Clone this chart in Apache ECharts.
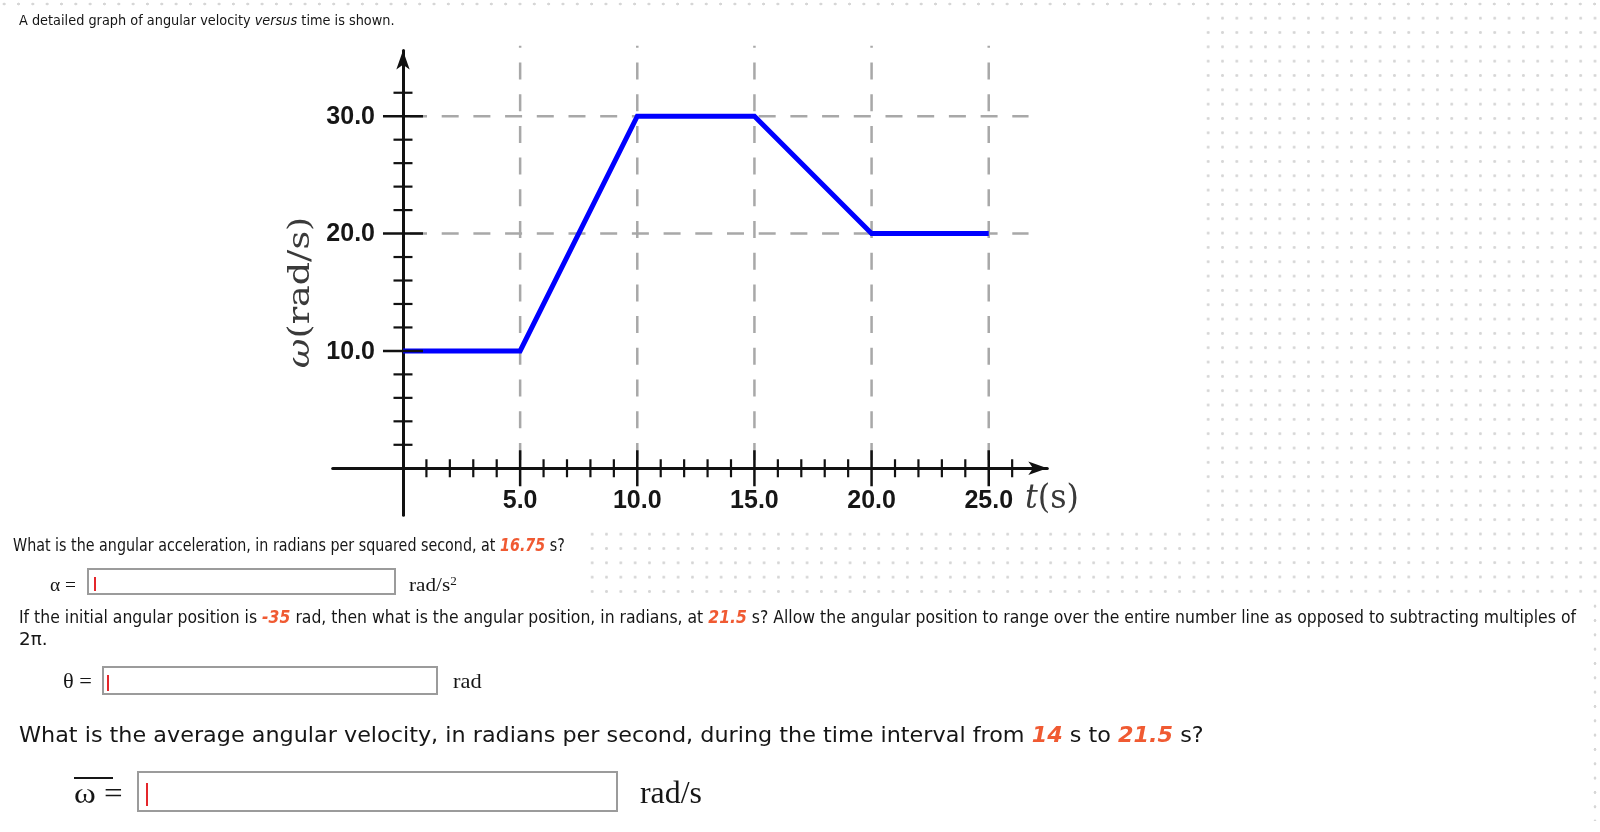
<!DOCTYPE html>
<html><head><meta charset="utf-8">
<script src="https://cdn.jsdelivr.net/npm/echarts@6/dist/echarts.min.js"></script>
<style>
html,body{margin:0;padding:0;background:#fff;width:1600px;height:832px;overflow:hidden;}
#chart{position:absolute;left:0;top:0;width:1600px;height:832px;}
.dots{position:absolute;background-image:radial-gradient(circle at center,#d6d6d6 0,#d6d6d6 1.1px,rgba(255,255,255,0) 1.8px);background-size:14.33px 14.33px;}
.t{position:absolute;white-space:nowrap;transform-origin:0 0;color:#161616;}
.sans{font-family:'DejaVu Sans',Verdana,sans-serif;}
.serif{font-family:'Liberation Serif','Times New Roman',serif;}
.o{color:#f05a32;font-weight:bold;font-style:italic;}
.box{position:absolute;box-sizing:border-box;border:2px solid #9b9b9b;background:#fff;}
.cur{position:absolute;width:2px;background:#e4262b;}
sup{font-size:0.62em;line-height:0;position:relative;top:-0.5em;vertical-align:baseline;}
</style></head>
<body>
<div class="dots" style="left:-2.9px;top:-3.3px;width:1603px;height:14.33px"></div>
<div class="dots" style="left:1201px;top:11px;width:399px;height:587.5px"></div>
<div class="dots" style="left:585px;top:526.6px;width:616px;height:71.9px"></div>
<div class="dots" style="left:1588px;top:598.5px;width:14.33px;height:222px"></div>
<div id="chart"></div>

<div class="t sans" data-x="19.4" data-b="25" data-fs="14" data-k="0.846" data-w="375.6">A detailed graph of angular velocity <i>versus</i> time is shown.</div>

<div class="t sans" data-x="12.5" data-b="551.7" data-fs="17" data-k="0.846" data-w="551.8">What is the angular acceleration, in radians per squared second, at <span class="o">16.75</span> s?</div>
<div class="t serif" data-x="50" data-b="590.5" data-fs="19" data-k="0.8375" data-w="26">α =</div>
<div class="box" style="left:87.3px;top:568.3px;width:308.7px;height:26.7px"></div>
<div class="cur" style="left:93.5px;top:577px;height:13.7px"></div>
<div class="t serif" data-x="409" data-b="590.7" data-fs="19" data-k="0.8375" data-w="47.7">rad/s<sup>2</sup></div>

<div class="t sans" data-x="19.4" data-b="623.5" data-fs="17" data-k="0.846" data-w="1557">If the initial angular position is <span class="o">-35</span> rad, then what is the angular position, in radians, at <span class="o">21.5</span> s? Allow the angular position to range over the entire number line as opposed to subtracting multiples of</div>
<div class="t sans" data-x="19.4" data-b="645.5" data-fs="17" data-k="0.846" data-w="28.6">2π.</div>
<div class="t serif" data-x="63" data-b="688.3" data-fs="22" data-k="0.8375" data-w="29">θ =</div>
<div class="box" style="left:101.7px;top:666px;width:336.6px;height:29px"></div>
<div class="cur" style="left:107px;top:675px;height:16px"></div>
<div class="t serif" data-x="453" data-b="688.3" data-fs="22" data-k="0.8375" data-w="28.6">rad</div>

<div class="t sans" data-x="19.4" data-b="741.7" data-fs="21.5" data-k="0.846" data-w="1184.6">What is the average angular velocity, in radians per second, during the time interval from <span class="o">14</span> s to <span class="o">21.5</span> s?</div>
<div class="t serif" data-x="74" data-b="803.3" data-fs="30" data-k="0.8375" data-w="48.7">ω =</div>
<div style="position:absolute;left:74px;top:777px;width:39px;height:1.6px;background:#161616"></div>
<div class="box" style="left:136.7px;top:770.7px;width:481.7px;height:41.6px"></div>
<div class="cur" style="left:145.7px;top:783px;height:23px"></div>
<div class="t serif" data-x="640" data-b="803.3" data-fs="31" data-k="0.8375" data-w="62">rad/s</div>

<script>
// ---- data ----
const timeS = [0, 5, 10, 15, 20, 25];
const omega = [10, 10, 30, 30, 20, 20];
const xMajorTicks = [5, 10, 15, 20, 25];
const xMinorTicks = [1, 2, 3, 4, 6, 7, 8, 9, 11, 12, 13, 14, 16, 17, 18, 19, 21, 22, 23, 24, 26];
const yMajorTicks = [10, 20, 30];
const yMinorTicks = [2, 4, 6, 8, 12, 14, 16, 18, 22, 24, 26, 28, 32];
const xTickLabels = ['5.0', '10.0', '15.0', '20.0', '25.0'];
const yTickLabels = ['10.0', '20.0', '30.0'];
const vGridAt = [5, 10, 15, 20, 25];
const hGridAt = [20, 30];
const vGridTop = 36;
const hGridEnd = 26.7;
const xRange = [-3, 27.5];
const yRange = [-4, 35.6];

function place() {
  document.querySelectorAll('.t').forEach(el => {
    const fs = +el.dataset.fs, k = +el.dataset.k, b = +el.dataset.b, w = +el.dataset.w;
    el.style.fontSize = fs + 'px';
    el.style.lineHeight = fs + 'px';
    el.style.left = el.dataset.x + 'px';
    el.style.top = (b - k * fs) + 'px';
    el.style.transform = 'none';
    const nat = el.getBoundingClientRect().width;
    el.style.transform = 'scaleX(' + (w / nat) + ')';
  });
}

function measure(font, parts) {
  const c = document.createElement('canvas').getContext('2d');
  let w = 0;
  parts.forEach(p => { c.font = p[0] + ' ' + font; w += c.measureText(p[1]).width; });
  return w;
}

function tickSeries(vals, axis, half, lw) {
  return {
    type: 'custom', coordinateSystem: 'cartesian2d', silent: true, clip: false, z: 6,
    data: vals.map(v => axis === 'x' ? [v, 0] : [0, v]),
    renderItem: (params, api) => {
      const p = api.coord([api.value(0), api.value(1)]);
      const shape = axis === 'x'
        ? { x1: p[0], y1: p[1] - half, x2: p[0], y2: p[1] + half }
        : { x1: p[0] - half, y1: p[1], x2: p[0] + half, y2: p[1] };
      return { type: 'line', shape: shape, style: { stroke: '#111', lineWidth: lw } };
    }
  };
}

const labelFont = 'bold 25px "Liberation Sans", Arial, sans-serif';
function labelSeries(vals, labels, axis) {
  return {
    type: 'custom', coordinateSystem: 'cartesian2d', silent: true, clip: false, z: 7,
    data: vals.map((v, i) => axis === 'x' ? [v, 0, i] : [0, v, i]),
    renderItem: (params, api) => {
      const p = api.coord([api.value(0), api.value(1)]);
      const txt = labels[api.value(2)];
      return axis === 'x'
        ? { type: 'text', x: p[0], y: p[1] + 33, style: { text: txt, font: labelFont, fill: '#161616', align: 'center', verticalAlign: 'middle' } }
        : { type: 'text', x: p[0] - 28, y: p[1] + 1, style: { text: txt, font: labelFont, fill: '#161616', align: 'right', verticalAlign: 'middle' } };
    }
  };
}

function draw() {
  const chart = echarts.init(document.getElementById('chart'), null, { renderer: 'canvas' });
  const gridLine = { color: '#a8a8a8', width: 2.5, type: [17, 14.7] };
  const series = [];
  vGridAt.forEach(v => series.push({
    type: 'line', silent: true, clip: false, symbol: 'none', z: 1,
    data: [[v, vGridTop], [v, 0]], lineStyle: Object.assign({ dashOffset: 15 }, gridLine)
  }));
  hGridAt.forEach(v => series.push({
    type: 'line', silent: true, clip: false, symbol: 'none', z: 1,
    data: [[0, v], [hGridEnd, v]], lineStyle: Object.assign({ dashOffset: 24.7 }, gridLine)
  }));
  series.push({
    type: 'line', silent: true, clip: false, symbol: 'none', z: 4,
    data: timeS.map((t, i) => [t, omega[i]]),
    lineStyle: { color: '#0000ff', width: 5, join: 'miter' }
  });
  series.push(tickSeries(xMinorTicks, 'x', 9, 2.2));
  series.push(tickSeries(xMajorTicks, 'x', 18, 2.5));
  series.push(tickSeries(yMinorTicks, 'y', 9.5, 2.2));
  series.push(tickSeries(yMajorTicks, 'y', 20, 2.5));
  series.push(labelSeries(xMajorTicks, xTickLabels, 'x'));
  series.push(labelSeries(yMajorTicks, yTickLabels, 'y'));

  const serif = '"DejaVu Serif", "Liberation Serif", serif';
  const yNameFs = 30, xNameFs = 34;
  const yNameW = measure(yNameFs + 'px ' + serif, [['italic', 'ω'], ['normal', '(rad/s)']]);
  const xNameW = measure(xNameFs + 'px ' + serif, [['italic', 't'], ['normal', '(s)']]);

  const axisLine = { onZero: true, symbol: ['none', 'arrow'], symbolSize: [10, 19], symbolOffset: [0, 0], lineStyle: { color: '#111', width: 3 } };
  chart.setOption({
    animation: false,
    grid: { left: 332.7, top: 50.5, width: 714.6, height: 464.7, containLabel: false },
    xAxis: {
      type: 'value', min: xRange[0], max: xRange[1],
      axisLine: axisLine, axisTick: { show: false }, splitLine: { show: false }, axisLabel: { show: false }
    },
    yAxis: {
      type: 'value', min: yRange[0], max: yRange[1],
      axisLine: axisLine, axisTick: { show: false }, splitLine: { show: false }, axisLabel: { show: false }
    },
    graphic: [
      {
        type: 'text', x: 301, y: 292.5, rotation: Math.PI / 2, scaleX: 151.6 / yNameW, z: 10,
        style: {
          text: '{i|ω}{n|(rad/s)}', align: 'center', verticalAlign: 'middle',
          rich: {
            i: { fontFamily: serif, fontSize: yNameFs, fontStyle: 'italic', fill: '#3a3a3a' },
            n: { fontFamily: serif, fontSize: yNameFs, fill: '#3a3a3a' }
          }
        }
      },
      {
        type: 'text', x: 1052, y: 499.5, scaleX: 54 / xNameW, z: 10,
        style: {
          text: '{i|t}{n|(s)}', align: 'center', verticalAlign: 'middle',
          rich: {
            i: { fontFamily: serif, fontSize: xNameFs, fontStyle: 'italic', fill: '#3a3a3a' },
            n: { fontFamily: serif, fontSize: xNameFs, fill: '#3a3a3a' }
          }
        }
      }
    ],
    series: series
  });
}

Promise.all([
  document.fonts.load('30px "DejaVu Serif"'),
  document.fonts.load('italic 30px "DejaVu Serif"'),
  document.fonts.load('17px "DejaVu Sans"'),
  document.fonts.load('bold italic 17px "DejaVu Sans"'),
  document.fonts.load('20px "Liberation Serif"'),
  document.fonts.load('bold 25px "Liberation Sans"')
]).catch(() => {}).then(() => document.fonts.ready).then(() => { place(); draw(); });
</script>
</body></html>
